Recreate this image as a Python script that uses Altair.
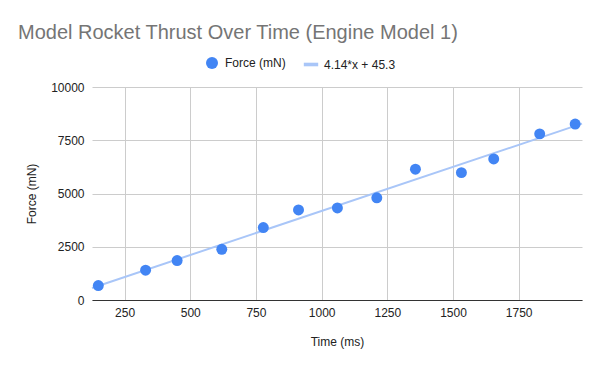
import altair as alt
import pandas as pd

# ---- data ----
time_ms = [150, 330, 450, 620, 778, 912, 1060, 1210, 1357, 1532, 1655, 1830, 1965]
force_mn = [680, 1400, 1850, 2380, 3400, 4230, 4320, 4800, 6140, 5980, 6620, 7800, 8260]
series_names = ["Force (mN)", "4.14*x + 45.3"]
x_ticks = [250, 500, 750, 1000, 1250, 1500, 1750]
y_ticks = [0, 2500, 5000, 7500, 10000]
x_domain = [126, 1991]
y_domain = [0, 10000]

df = pd.DataFrame({"time": time_ms, "force": force_mn, "series": series_names[0]})

FONT = "Liberation Sans"
POINT_BLUE = "#4285F4"
TREND_BLUE = "#A9C6F8"

x_scale = alt.Scale(domain=x_domain, nice=False, zero=False)
y_scale = alt.Scale(domain=y_domain, nice=False)

x_axis = alt.Axis(values=x_ticks, title="Time (ms)", grid=True, ticks=False, format="d",
                  domain=True, domainColor="#333333", labelPadding=7, titlePadding=18)
y_axis = alt.Axis(values=y_ticks, title="Force (mN)", grid=True, ticks=False, format="d",
                  domain=False, labelPadding=8, titlePadding=12)

legend = alt.Legend(title=None, orient="none", direction="horizontal",
                    legendX=113, legendY=-31, symbolSize=144,
                    labelFontSize=12, labelColor="#222222", labelFont=FONT,
                    columnPadding=14, labelOffset=6, symbolOpacity=1)

trend = alt.Chart(df).transform_regression(
    "time", "force", extent=x_domain
).mark_line(color=TREND_BLUE, strokeWidth=2).encode(
    x=alt.X("time:Q", scale=x_scale, axis=x_axis),
    y=alt.Y("force:Q", scale=y_scale, axis=y_axis),
)

points = alt.Chart(df).mark_point(filled=True, size=120, opacity=1).encode(
    x=alt.X("time:Q", scale=x_scale, axis=x_axis),
    y=alt.Y("force:Q", scale=y_scale, axis=y_axis),
    color=alt.Color("series:N",
                    scale=alt.Scale(domain=series_names, range=[POINT_BLUE, TREND_BLUE]),
                    legend=legend),
    shape=alt.Shape("series:N",
                    scale=alt.Scale(domain=series_names, range=["circle", "M-1.2,-0.3H1.2V0.3H-1.2Z"]),
                    legend=legend),
)

chart = alt.layer(trend, points).properties(
    width=490,
    height=213,
    autosize=alt.AutoSizeParams(type="none"),
    padding={"left": 84, "top": 79, "right": 10, "bottom": 63},
    title=alt.Title("Model Rocket Thrust Over Time (Engine Model 1)", anchor="start",
                    fontSize=20, font=FONT, fontWeight="normal", color="#757575",
                    dx=-74, offset=13, frame="group"),
).configure_view(stroke=None).configure_axis(
    labelFont=FONT, titleFont=FONT, labelFontSize=12, titleFontSize=12,
    labelColor="#222222", titleColor="#222222", titleFontWeight="normal",
    gridColor="#CCCCCC", gridWidth=1,
)

chart.save("out.html", embed_options={"renderer": "svg", "actions": False})
